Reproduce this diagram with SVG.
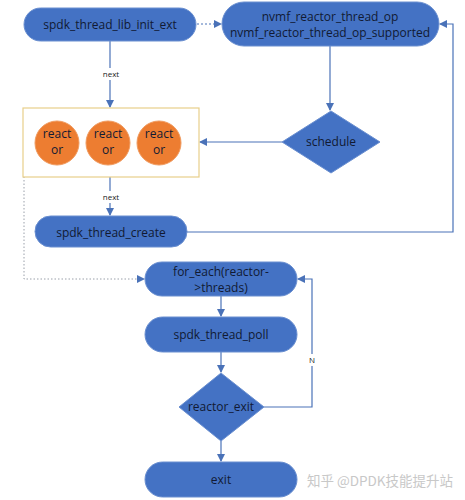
<svg xmlns="http://www.w3.org/2000/svg" width="465" height="500" viewBox="0 0 465 500">
<defs>
<style>
.n{fill:#4472c4;stroke:#6a8fd0;stroke-width:1}
.t{font-family:"Open Sans","Liberation Sans",sans-serif;font-size:12px;fill:#111a33;text-anchor:middle}
.c{fill:#ed7d31;stroke:#f09a5e;stroke-width:1}
.e{fill:none;stroke:#4a72b8;stroke-width:1.2}
.d{fill:none;stroke:#4a72b8;stroke-width:1;stroke-dasharray:2,2}
.g{fill:none;stroke:#9aa0aa;stroke-width:1;stroke-dasharray:1.5,2}
.lb{font-family:"Open Sans","Liberation Sans",sans-serif;font-size:8px;fill:#222;text-anchor:middle}
</style>
<marker id="a" markerWidth="8" markerHeight="8" refX="7" refY="4" orient="auto" markerUnits="userSpaceOnUse">
<path d="M0,0 L8,4 L0,8 Z" fill="#4a72b8"/>
</marker>
</defs>
<rect width="465" height="500" fill="#fff"/>
<g id="connectors">
<line class="d" x1="197" y1="24" x2="221" y2="24" marker-end="url(#a)"/>
<line class="e" x1="110" y1="41" x2="110" y2="107" marker-end="url(#a)"/>
<line class="e" x1="330" y1="46" x2="330" y2="110" marker-end="url(#a)"/>
<line class="e" x1="282" y1="142" x2="200" y2="142" marker-end="url(#a)"/>
<line class="e" x1="110" y1="177" x2="110" y2="215" marker-end="url(#a)"/>
<polyline class="e" points="187,232 453,232 453,24 440,24" marker-end="url(#a)"/>
<polyline class="g" points="34,141 24,141 24,279 144,279" marker-end="url(#a)"/>
<line class="e" x1="221" y1="296" x2="221" y2="316" marker-end="url(#a)"/>
<line class="e" x1="221" y1="352" x2="221" y2="372" marker-end="url(#a)"/>
<polyline class="e" points="264,407 312,407 312,279 298,279" marker-end="url(#a)"/>
<line class="e" x1="221" y1="441" x2="221" y2="461" marker-end="url(#a)"/>
<rect x="101" y="68" width="20" height="12" fill="#fff"/>
<text class="lb" x="111" y="77">next</text>
<rect x="101" y="191" width="20" height="12" fill="#fff"/>
<text class="lb" x="111" y="200">next</text>
<rect x="308" y="354" width="8" height="12" fill="#fff"/>
<text class="lb" x="312" y="363">N</text>
</g>
<g id="init">
<rect class="n" x="24" y="8" width="172" height="33" rx="16.5"/>
<text class="t" x="110" y="29">spdk_thread_lib_init_ext</text>
</g>
<g id="nvmf">
<rect class="n" x="222" y="2" width="217" height="44" rx="22"/>
<text class="t" x="330" y="21">nvmf_reactor_thread_op</text>
<text class="t" x="330" y="37">nvmf_reactor_thread_op_supported</text>
</g>
<g id="reactors">
<rect x="23" y="108" width="176" height="69" fill="#fff" stroke="#e8cf8a" stroke-width="1.2"/>
<circle class="c" cx="57" cy="143" r="22"/>
<circle class="c" cx="108" cy="143" r="22"/>
<circle class="c" cx="159" cy="143" r="22"/>
<text class="t" x="57" y="138">react</text><text class="t" x="57" y="154">or</text>
<text class="t" x="108" y="138">react</text><text class="t" x="108" y="154">or</text>
<text class="t" x="159" y="138">react</text><text class="t" x="159" y="154">or</text>
</g>
<g id="schedule">
<polygon class="n" points="331,111 380,142 331,173 282,142"/>
<text class="t" x="331" y="146">schedule</text>
</g>
<g id="create">
<rect class="n" x="35" y="216" width="152" height="31" rx="15.5"/>
<text class="t" x="111" y="237">spdk_thread_create</text>
</g>
<g id="foreach">
<rect class="n" x="145" y="262" width="152" height="34" rx="17"/>
<text class="t" x="221" y="276">for_each(reactor-</text>
<text class="t" x="221" y="292">&gt;threads)</text>
</g>
<g id="poll">
<rect class="n" x="145" y="317" width="152" height="35" rx="17.5"/>
<text class="t" x="221" y="339">spdk_thread_poll</text>
</g>
<g id="rexit">
<polygon class="n" points="221,373 264,407 221,441 179,407"/>
<text class="t" x="221" y="411">reactor_exit</text>
</g>
<g id="exit">
<rect class="n" x="145" y="462" width="152" height="35" rx="17.5"/>
<text class="t" x="221" y="484">exit</text>
</g>
<text x="380" y="486" font-family="'Noto Sans CJK SC',sans-serif" font-size="13.5" fill="#c8c8c8" text-anchor="middle">知乎 @DPDK技能提升站</text>
</svg>
